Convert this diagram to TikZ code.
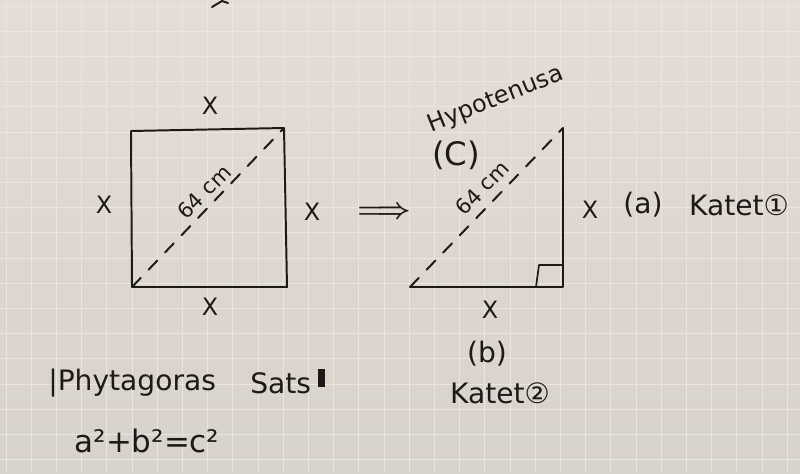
\documentclass[tikz,border=0pt]{standalone}
\usepackage{fontspec}
\setmainfont{DejaVu Sans}

\definecolor{paperlight}{HTML}{E5DCD5}
\definecolor{paperdark}{HTML}{D7D2CB}
\definecolor{gridline}{HTML}{E9E5E0}
\definecolor{ink}{HTML}{1C1917}

\newcommand{\handsize}[1]{\fontsize{#1}{#1}\selectfont}

\begin{document}
\begin{tikzpicture}[x=0.025cm, y=-0.025cm,
    inkline/.style={ink, line width=1.4pt, line cap=round, line join=round},
    hidden/.style={inkline, dash pattern=on 9pt off 8pt},
    hand/.style={text=ink, inner sep=0pt}]

    % Paper with grid
    \useasboundingbox (0,0) rectangle (800,473);
    \clip (0,0) rectangle (800,473);
	\shade[top color=paperlight, bottom color=paperdark] (0,0) rectangle (800,473);
    \foreach \g in {0,...,31} {
        \draw[gridline, line width=0.6pt] (6+25.2*\g,0) -- (6+25.2*\g,473);
        \draw[gridline, line width=0.6pt] (0,6+25.2*\g) -- (800,6+25.2*\g);
    }

    % Stroke cut off at the top edge
	\draw[inkline] (212,7) -- (222,1) -- (228,3);

    % Square with its diagonal
    \coordinate (sqTL) at (131,131);
    \coordinate (sqTR) at (284,128);
    \coordinate (sqBR) at (287,287);
    \coordinate (sqBL) at (132,287);
	\draw[inkline] (sqTL) -- (sqTR) -- (sqBR) -- (sqBL) -- cycle;
	\draw[hidden] (sqBL) -- (sqTR);

    % Labels of the square
	\node[hand, font=\handsize{17}] (sqtop) at (210,106) {X};
	\node[hand, font=\handsize{17}] (sqleft) at (104,205) {X};
	\node[hand, font=\handsize{17}] (sqright) at (312,212) {X};
	\node[hand, font=\handsize{17}] (sqbottom) at (210,307) {X};
	\node[hand, font=\handsize{15}, rotate=45] (sqdiag) at (204,192) {64 cm};

    % Implies sign
	\node[hand, font=\handsize{22}\boldmath] (implies) at (384,213) {$\Longrightarrow$};

    % Right triangle
    \coordinate (trA) at (410,287);
    \coordinate (trB) at (563,287);
    \coordinate (trC) at (563,128);
	\draw[inkline] (trA) -- (trB) -- (trC);
	\draw[hidden] (trA) -- (trC);
	\draw[inkline, line width=1.2pt] (trB) ++(-27,0) -- ++(3,-22) -- ++(24,0);

    % Labels of the triangle
	\node[hand, font=\handsize{17}, rotate=22] (hyp) at (496,100) {Hypotenusa};
	\node[hand, font=\handsize{23}] (hypc) at (456,155) {(C)};
	\node[hand, font=\handsize{15}, rotate=46] (trdiag) at (482,188) {64 cm};
	\node[hand, font=\handsize{17}] (trright) at (590,210) {X};
	\node[hand, font=\handsize{20}] (lega) at (643,205) {(a)};
	\node[hand, font=\handsize{20}] (katet1) at (739,205) {Katet①};
	\node[hand, font=\handsize{17}] (trbottom) at (490,310) {X};
	\node[hand, font=\handsize{20}] (legb) at (487,354) {(b)};
	\node[hand, font=\handsize{20}] (katet2) at (500,393) {Katet②};

    % Theorem
	\node[hand, font=\handsize{20}, anchor=west] (title) at (48,383) {|Phytagoras};
	\node[hand, font=\handsize{20}, anchor=west] (sats) at (250,383) {Sats};
	\fill[ink] (318,369) rectangle (325,387);
	\node[hand, font=\handsize{22}] (formula) at (147,441) {a²+b²=c²};

\end{tikzpicture}
\end{document}
